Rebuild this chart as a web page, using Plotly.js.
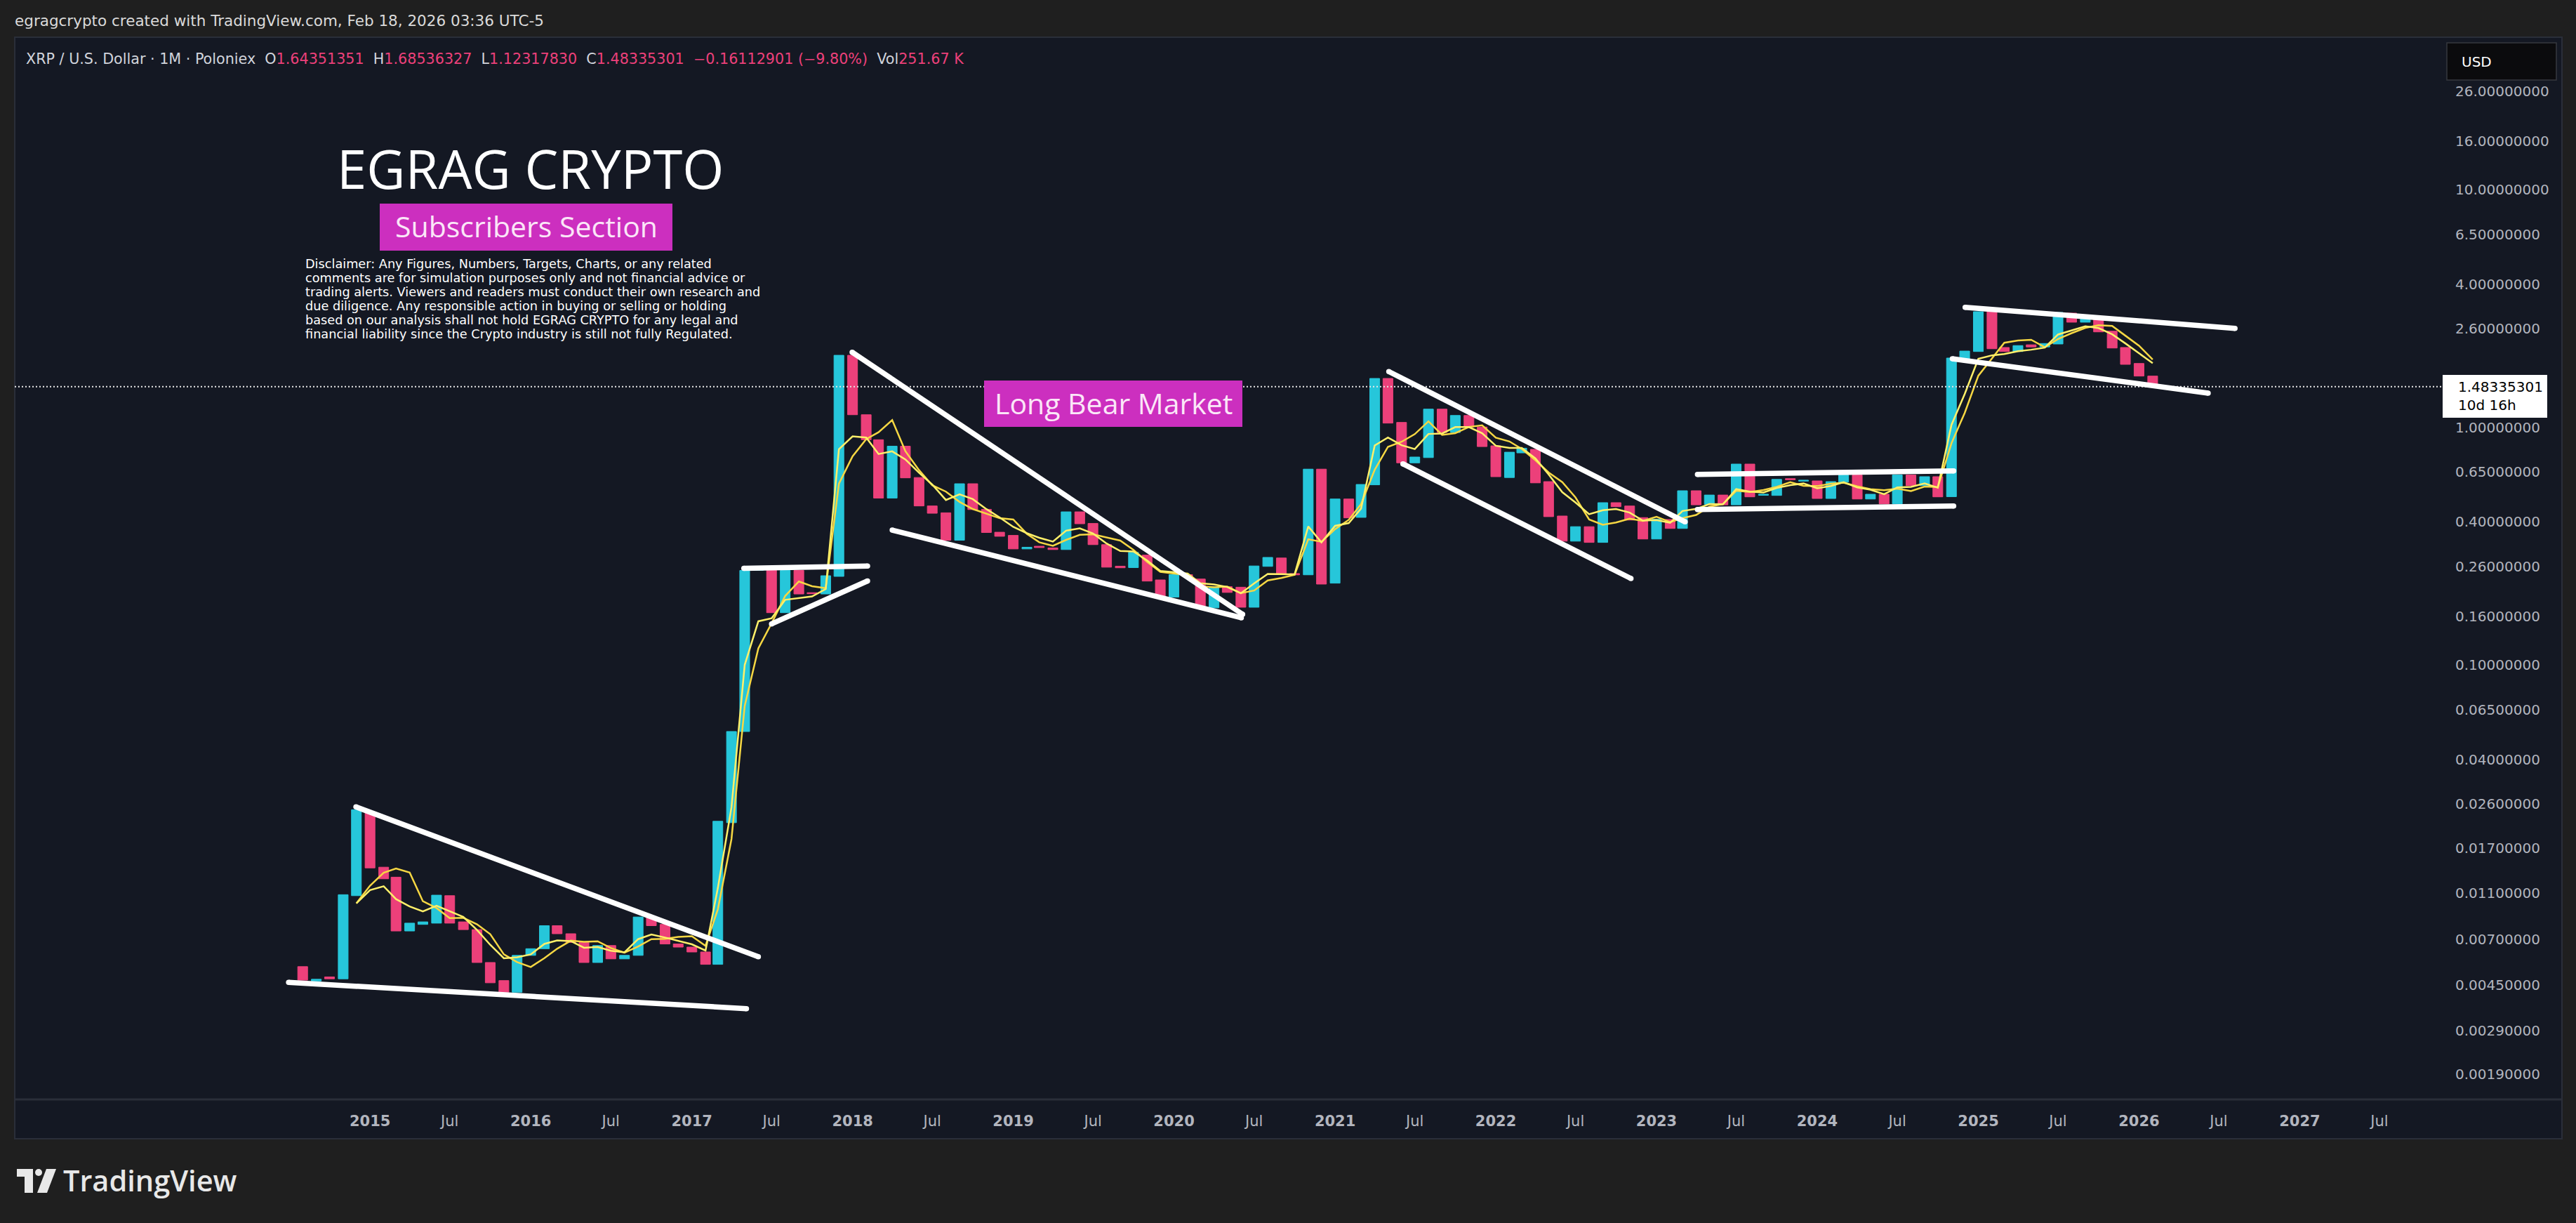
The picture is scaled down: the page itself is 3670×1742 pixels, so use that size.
<!DOCTYPE html>
<html><head><meta charset="utf-8">
<script src="https://cdn.plot.ly/plotly-3.0.1.min.js"></script>
<style>html,body{margin:0;padding:0;background:#1f1f1f;}#chart{width:3670px;height:1742px;}</style>
</head><body><div id="chart"></div>
<script>
// ---------- DATA (monthly XRP/USD, Poloniex) ----------
const firstMonth = {year: 2014, month: 8};   // Aug 2014
const opens = [
  0.00538,0.00468,0.00487,0.00478,0.0107,
  0.0240,0.0141,0.0128,0.0076,0.0081,0.0082,0.0107,0.0083,0.0077,0.0056,0.0047,0.0042,
  0.0060,0.0064,0.0080,0.0074,0.0068,0.0056,0.0066,0.0058,0.0060,0.0087,0.0081,0.0067,
  0.0065,0.0062,0.0055,0.0217,0.0525,0.250,0.257,0.166,0.250,0.2015,0.199,0.236,
  2.01,1.13,0.887,0.504,0.833,0.615,0.467,0.437,0.335,0.579,0.452,0.362,
  0.351,0.308,0.316,0.311,0.306,0.441,0.394,0.321,0.2605,0.257,0.290,0.228,
  0.193,0.240,0.230,0.174,0.2136,0.2125,0.175,0.260,0.282,0.2425,0.2396,0.667,
  0.221,0.4995,0.418,0.573,1.606,1.049,0.709,0.746,1.193,0.9515,1.122,1.003,
  0.836,0.615,0.781,0.808,0.591,0.4235,0.332,0.382,0.328,0.482,0.4667,0.417,
  0.339,0.4096,0.3755,0.541,0.4745,0.519,0.472,0.7005,0.518,0.517,0.6085,0.594,
  0.595,0.502,0.588,0.630,0.4995,0.523,0.4765,0.630,0.5685,0.620,0.511,1.944,
  2.085,3.066,2.168,2.085,2.225,2.180,2.243,3.025,2.770,2.864,2.539,2.168,
  1.857,1.64351351
];
const closes = [
  0.00472,0.00476,0.00478,0.0108,0.0246,
  0.0140,0.0126,0.0076,0.0082,0.0083,0.01075,0.0082,0.0077,0.0056,0.0046,0.0042,0.0060,
  0.0064,0.0080,0.0074,0.0068,0.0056,0.0066,0.0058,0.0060,0.0087,0.0080,0.0067,0.0065,
  0.0062,0.0055,0.0220,0.0525,0.250,0.258,0.166,0.250,0.199,0.1995,0.2375,2.01,
  1.13,0.887,0.504,0.833,0.613,0.467,0.435,0.335,0.579,0.451,0.361,0.348,
  0.308,0.313,0.312,0.306,0.441,0.393,0.321,0.258,0.2565,0.298,0.2255,0.195,
  0.240,0.236,0.177,0.2136,0.202,0.175,0.261,0.2836,0.240,0.2395,0.667,0.219,
  0.4995,0.416,0.575,1.606,1.042,0.709,0.750,1.193,0.9515,1.122,1.003,0.830,
  0.620,0.786,0.817,0.584,0.421,0.332,0.382,0.328,0.482,0.4636,0.4074,0.339,
  0.411,0.3755,0.541,0.472,0.519,0.472,0.7005,0.510,0.523,0.604,0.602,0.599,
  0.502,0.591,0.630,0.4995,0.523,0.4765,0.630,0.5685,0.620,0.510,1.957,2.094,
  3.066,2.142,2.085,2.208,2.180,2.253,3.045,2.770,2.864,2.522,2.157,1.841,
  1.6435,1.48335301
];
const maLength = 5;
const yTickVals = [26,16,10,6.5,4,2.6,1,0.65,0.4,0.26,0.16,0.1,0.065,0.04,0.026,0.017,0.011,0.007,0.0045,0.0029,0.0019];
const xTickYears = [2015,2016,2017,2018,2019,2020,2021,2022,2023,2024,2025,2026,2027];
const trendLines = [
  [['2014-06-30',0.004618],['2017-05-05',0.003581]],
  [['2014-11-30',0.02529],['2017-06-01',0.005922]],
  [['2017-04-29',0.2553],['2018-02-04',0.2607]],
  [['2017-07-01',0.1489],['2018-02-04',0.2258]],
  [['2017-12-31',2.071],['2020-06-05',0.1634]],
  [['2018-04-01',0.3696],['2020-06-02',0.158]],
  [['2021-05-03',1.717],['2023-03-07',0.4002]],
  [['2021-06-04',0.702],['2022-11-04',0.2312]],
  [['2023-04-04',0.634],['2024-11-06',0.6557]],
  [['2023-04-04',0.4512],['2024-11-06',0.4667]],
  [['2024-12-02',3.201],['2026-08-07',2.609]],
  [['2024-11-03',1.944],['2026-06-07',1.393]]
];
const headerText = 'egragcrypto created with TradingView.com, Feb 18, 2026 03:36 UTC-5';
const symbolText = 'XRP / U.S. Dollar · 1M · Poloniex';
const ohlcLabels = ['O','H','L','C'];
const ohlcValues = ['1.64351351','1.68536327','1.12317830','1.48335301'];
const changeText = '−0.16112901 (−9.80%)';
const volText = '251.67 K';
const countdownText = '10d 16h';
const disclaimerLines = [
  'Disclaimer: Any Figures, Numbers, Targets, Charts, or any related',
  'comments are for simulation purposes only and not financial advice or',
  'trading alerts. Viewers and readers must conduct their own research and',
  'due diligence. Any responsible action in buying or selling or holding',
  'based on our analysis shall not hold EGRAG CRYPTO for any legal and',
  'financial liability since the Crypto industry is still not fully Regulated.'
];

// ---------- DERIVED ----------
const dates = opens.map((_, i) => {
  const m = firstMonth.month - 1 + i;
  const y = firstMonth.year + Math.floor(m / 12);
  const mm = (m % 12) + 1;
  return y + '-' + String(mm).padStart(2, '0') + '-01';
});
const highs = opens.map((o, i) => Math.max(o, closes[i]));
const lows = opens.map((o, i) => Math.min(o, closes[i]));
const sma = closes.map((c, i) => {
  if (i < maLength - 1) return null;
  let s = 0; for (let k = i - maLength + 1; k <= i; k++) s += closes[k];
  return s / maLength;
});
const ema = [];
const alpha = 2 / (maLength + 1);
closes.forEach((c, i) => {
  if (i < maLength - 1) ema.push(null);
  else if (i === maLength - 1) ema.push(sma[i]);
  else ema.push(alpha * c + (1 - alpha) * ema[i - 1]);
});
const lastClose = closes[closes.length - 1];

// ---------- GEOMETRY ----------
const W = 3670, H = 1742;
const L = 21, R = 3479, T = 53, B = 1566;
const pw = R - L, ph = B - T;
const px = x => (x - L) / pw;
const py = y => (B - y) / ph;
const xRange = ['2012-10-16', '2027-11-20'];
const yRange = [-2.82806, 1.64165];

const UP = '#26c6da', DOWN = '#ec407a', MAG = '#cc2fbf';
const UI_FONT = 'DejaVu Sans', DRAW_FONT = 'Open Sans';

const traces = [];
traces.push({
  type: 'candlestick', x: dates, open: opens, high: highs, low: lows, close: closes,
  increasing: {line: {color: UP, width: 1}, fillcolor: UP},
  decreasing: {line: {color: DOWN, width: 1}, fillcolor: DOWN},
  whiskerwidth: 0, hoverinfo: 'skip', showlegend: false
});
traces.push({type: 'scatter', mode: 'lines', x: dates, y: sma, line: {color: '#f6d743', width: 2.5}, hoverinfo: 'skip', showlegend: false});
traces.push({type: 'scatter', mode: 'lines', x: dates, y: ema, line: {color: '#fff06a', width: 2.5}, hoverinfo: 'skip', showlegend: false});
traces.push({type: 'scatter', mode: 'lines', x: xRange, y: [lastClose, lastClose],
  line: {color: '#e8e8e8', width: 2, dash: '2px,3px'}, hoverinfo: 'skip', showlegend: false});
trendLines.forEach(seg => {
  traces.push({type: 'scatter', mode: 'lines+markers', x: seg.map(p => p[0]), y: seg.map(p => p[1]),
    line: {color: '#ffffff', width: 7.5}, marker: {color: '#ffffff', size: 7.5},
    hoverinfo: 'skip', showlegend: false});
});

const shapes = [];
// panel background + border
shapes.push({type: 'rect', xref: 'paper', yref: 'paper', layer: 'below',
  x0: px(21), x1: px(3650), y0: py(1622), y1: py(53),
  fillcolor: '#141823', line: {color: '#2a2e39', width: 2}});
shapes.push({type: 'line', xref: 'paper', yref: 'paper', layer: 'below',
  x0: px(21), x1: px(3650), y0: py(1566), y1: py(1566), line: {color: '#2a2e39', width: 3}});
// USD box
shapes.push({type: 'rect', xref: 'paper', yref: 'paper', layer: 'above',
  x0: px(3486), x1: px(3642), y0: py(114), y1: py(61), fillcolor: '#0b0b0d', line: {color: '#36383f', width: 1.5}});
// last price box
shapes.push({type: 'rect', xref: 'paper', yref: 'paper', layer: 'above',
  x0: px(3480), x1: px(3629), y0: py(595), y1: py(534), fillcolor: '#ffffff', line: {width: 0}});
// magenta label boxes
shapes.push({type: 'rect', xref: 'paper', yref: 'paper', layer: 'above',
  x0: px(541), x1: px(958), y0: py(357), y1: py(290), fillcolor: MAG, line: {width: 0}});
shapes.push({type: 'rect', xref: 'paper', yref: 'paper', layer: 'above',
  x0: px(1402), x1: px(1770), y0: py(608), y1: py(542), fillcolor: MAG, line: {width: 0}});
// TradingView logo
const LOGO = '#e8e8e8';
shapes.push({type: 'rect', xref: 'paper', yref: 'paper', x0: px(24), x1: px(47), y0: py(1676), y1: py(1665), fillcolor: LOGO, line: {width: 0}});
shapes.push({type: 'rect', xref: 'paper', yref: 'paper', x0: px(35), x1: px(47), y0: py(1699), y1: py(1665), fillcolor: LOGO, line: {width: 0}});
shapes.push({type: 'circle', xref: 'paper', yref: 'paper', x0: px(50), x1: px(60), y0: py(1675), y1: py(1665), fillcolor: LOGO, line: {width: 0}});
shapes.push({type: 'path', xref: 'paper', yref: 'paper',
  path: `M ${px(66)} ${py(1665)} L ${px(80)} ${py(1665)} L ${px(67)} ${py(1699)} L ${px(53)} ${py(1699)} Z`,
  fillcolor: LOGO, line: {width: 0}});

const ann = [];
const A = (o) => ann.push(Object.assign({xref: 'paper', yref: 'paper', showarrow: false}, o));
A({x: px(19), y: py(29), xanchor: 'left', yanchor: 'middle', text: headerText,
  font: {family: UI_FONT, size: 21.5, color: '#dadada'}});
const pink = s => `<span style="color:${DOWN}">${s}</span>`;
const legendHtml = symbolText + '\u00a0\u00a0' +
  ohlcLabels.map((l, i) => l + pink(ohlcValues[i])).join('\u00a0\u00a0') +
  '\u00a0\u00a0' + pink(changeText) + '\u00a0\u00a0Vol' + pink(volText);
A({x: px(35), y: py(84), xanchor: 'left', yanchor: 'middle', text: legendHtml,
  font: {family: UI_FONT, size: 20.7, color: '#d1d4dc'}});
A({x: px(3505), y: py(88), xanchor: 'left', yanchor: 'middle', text: 'USD',
  font: {family: UI_FONT, size: 20, color: '#ffffff'}});
A({x: px(3500), y: py(564), xanchor: 'left', yanchor: 'middle',
  text: ohlcValues[3] + '<br>' + countdownText, align: 'left',
  font: {family: UI_FONT, size: 20, color: '#000000'}});
A({x: px(755), y: py(240), xanchor: 'center', yanchor: 'middle', text: 'EGRAG CRYPTO',
  font: {family: DRAW_FONT, size: 76, color: '#ffffff'}});
A({x: px(749.5), y: py(322), xanchor: 'center', yanchor: 'middle', text: 'Subscribers Section',
  font: {family: DRAW_FONT, size: 41, color: '#fbe6f8'}});
disclaimerLines.forEach((t, i) => A({x: px(433), y: py(376 + 20 * i), xanchor: 'left', yanchor: 'middle', text: t,
  font: {family: UI_FONT, size: 17.7, color: '#ffffff'}}));
A({x: px(1586), y: py(574), xanchor: 'center', yanchor: 'middle', text: 'Long Bear Market',
  font: {family: DRAW_FONT, size: 41, color: '#fbe6f8'}});
A({x: px(88), y: py(1681), xanchor: 'left', yanchor: 'middle', text: 'TradingView',
  font: {family: DRAW_FONT, size: 41.5, color: LOGO, weight: 600}});

const xTickVals = [], xTickText = [];
xTickYears.forEach(y => {
  xTickVals.push(y + '-01-01'); xTickText.push('<b>' + y + '</b>');
  xTickVals.push(y + '-07-01'); xTickText.push('Jul');
});

const layout = {
  width: W, height: H,
  margin: {l: L, r: W - R, t: T, b: H - B, pad: 0},
  paper_bgcolor: '#1f1f1f', plot_bgcolor: '#141823',
  showlegend: false, boxgap: 0.2, boxgroupgap: 0,
  xaxis: {type: 'date', range: xRange, rangeslider: {visible: false},
    tickmode: 'array', tickvals: xTickVals, ticktext: xTickText,
    showgrid: false, zeroline: false, showline: false, ticks: '',
    ticklabelstandoff: 16,
    tickfont: {family: UI_FONT, size: 21, color: '#b2b5be'}},
  yaxis: {type: 'log', range: yRange, side: 'right',
    tickmode: 'array', tickvals: yTickVals, ticktext: yTickVals.map(v => v.toFixed(8)),
    showgrid: false, zeroline: false, showline: false, ticks: '',
    ticklabelstandoff: 18,
    tickfont: {family: UI_FONT, size: 20, color: '#b2b5be'}},
  shapes: shapes, annotations: ann
};
Plotly.newPlot('chart', traces, layout, {displayModeBar: false, staticPlot: true});
</script></body></html>
